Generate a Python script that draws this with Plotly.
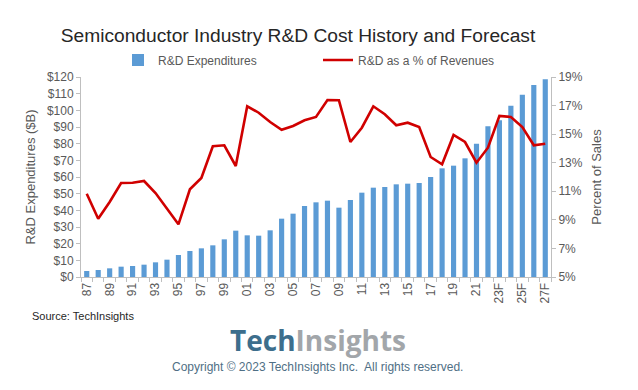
import plotly.graph_objects as go

years = ["87", "88", "89", "90", "91", "92", "93", "94", "95", "96", "97", "98", "99", "00",
         "01", "02", "03", "04", "05", "06", "07", "08", "09", "10", "11", "12", "13", "14",
         "15", "16", "17", "18", "19", "20", "21", "22", "23F", "24F", "25F", "26F", "27F"]
tick_labels = [y if i % 2 == 0 else "" for i, y in enumerate(years)]

rd_spend = [3.6, 4.2, 5.2, 6.2, 6.6, 7.4, 8.8, 10.4, 13.2, 15.6, 17.2, 19.0, 22.6, 27.8,
            25.0, 24.8, 28.0, 35.0, 38.0, 42.6, 44.8, 45.8, 41.6, 46.2, 50.6, 53.6, 54.0, 55.6,
            56.0, 56.4, 60.0, 65.2, 66.8, 71.2, 80.0, 90.4, 94.0, 102.8, 109.4, 115.2, 118.6]

rd_pct = [10.83, 9.08, 10.25, 11.58, 11.6, 11.72, 10.88, 9.78, 8.69, 11.14, 11.93, 14.15, 14.22, 12.77,
          16.95, 16.5, 15.85, 15.31, 15.57, 15.97, 16.2, 17.39, 17.37, 14.45, 15.45, 16.95, 16.39, 15.62,
          15.8, 15.5, 13.4, 12.89, 14.94, 14.45, 13.0, 14.05, 16.27, 16.2, 15.5, 14.22, 14.33]

FONT = "Arial, Liberation Sans, sans-serif"
AXIS_COL = "#bfbfbf"
TXT = "#595959"

fig = go.Figure()
fig.add_trace(go.Bar(x=years, y=rd_spend, name="R&D Expenditures",
                     marker=dict(color="#5b9bd5", line=dict(width=0)), yaxis="y"))
fig.add_trace(go.Scatter(x=years, y=rd_pct, name="R&D as a % of Revenues", mode="lines",
                         line=dict(color="#d00000", width=2.6), yaxis="y2"))

fig.update_layout(
    width=638, height=390,
    paper_bgcolor="white", plot_bgcolor="white",
    margin=dict(l=81, r=87, t=77, b=113, autoexpand=False),
    font=dict(family=FONT, color=TXT, size=12),
    bargap=0.55,
    showlegend=True,
    title=dict(text="Semiconductor Industry R&D Cost History and Forecast",
               x=298 / 638, xanchor="center", y=1 - 35 / 390, yanchor="middle",
               font=dict(size=19.2, color="#262626", family=FONT)),
    legend=dict(orientation="h", xref="container", x=118 / 638, xanchor="left",
                yref="container", y=1 - 60 / 390, yanchor="middle",
                font=dict(size=12, color=TXT), entrywidth=155, entrywidthmode="pixels",
                itemwidth=30, bgcolor="rgba(0,0,0,0)"),
    xaxis=dict(type="category", tickmode="array", tickvals=years, ticktext=tick_labels,
               tickangle=-90, tickson="boundaries", ticks="outside", ticklen=4,
               tickcolor=AXIS_COL, showline=True, linecolor=AXIS_COL, linewidth=1,
               showgrid=False, tickfont=dict(size=12, color=TXT), automargin=False),
    yaxis=dict(range=[0, 120], tick0=0, dtick=10, tickprefix="$", showgrid=False, zeroline=False,
               showline=True, linecolor=AXIS_COL, ticks="outside", ticklen=4, tickcolor=AXIS_COL,
               title=dict(text="R&D Expenditures ($B)", font=dict(size=13, color=TXT), standoff=8),
               tickfont=dict(size=12, color=TXT), automargin=False),
    yaxis2=dict(range=[5, 19], tick0=5, dtick=2, ticksuffix="%", overlaying="y", side="right",
                showgrid=False, zeroline=False, showline=True, linecolor=AXIS_COL,
                ticks="outside", ticklen=4, tickcolor=AXIS_COL,
                title=dict(text="Percent of Sales", font=dict(size=13, color=TXT), standoff=10),
                tickfont=dict(size=12, color=TXT), automargin=False),
    annotations=[
        dict(text="Source: TechInsights", xref="paper", yref="paper", x=-81 / 470 + 30 / 470,
             xanchor="left", y=(277 - 316) / 200, yanchor="middle", showarrow=False,
             font=dict(size=11, color="#262626", family=FONT)),
        dict(text="<b><span style='color:#3d6e8c'>Tech</span><span style='color:#a2a6aa'>Insights</span></b>",
             xref="paper", yref="paper", x=(318 - 81) / 470, xanchor="center",
             y=(277 - 340) / 200, yanchor="middle", showarrow=False,
             font=dict(size=28, family="Open Sans, sans-serif")),
        dict(text="Copyright © 2023 TechInsights Inc.  All rights reserved.", xref="paper", yref="paper",
             x=(317 - 81) / 470, xanchor="center", y=(277 - 367) / 200, yanchor="middle",
             showarrow=False, font=dict(size=12, color="#4f6f85", family=FONT)),
    ],
)

fig.write_html("out.html", config={"displayModeBar": False},
               post_script="document.body.style.margin='0px';")
